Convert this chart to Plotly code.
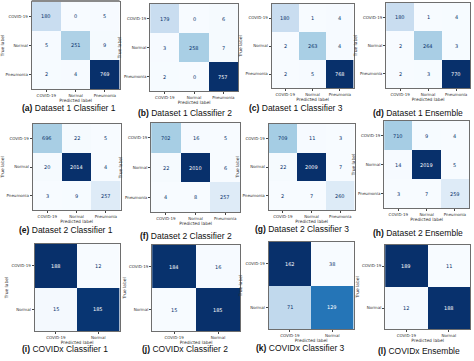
import plotly.graph_objects as go
from plotly.colors import sequential

# ---------------- data ----------------
labels3 = ["COVID-19", "Normal", "Pneumonia"]
labels2 = ["COVID-19", "Normal"]

cm_a = [[180, 0, 5], [5, 251, 9], [2, 4, 769]]
cm_b = [[179, 0, 6], [3, 258, 7], [2, 0, 757]]
cm_c = [[180, 1, 4], [2, 263, 4], [2, 5, 768]]
cm_d = [[180, 1, 4], [2, 264, 3], [2, 3, 770]]
cm_e = [[696, 22, 5], [20, 2014, 4], [3, 9, 257]]
cm_f = [[702, 16, 5], [22, 2010, 6], [4, 8, 257]]
cm_g = [[709, 11, 3], [22, 2009, 7], [2, 7, 260]]
cm_h = [[710, 9, 4], [14, 2019, 5], [3, 7, 259]]
cm_i = [[188, 12], [15, 185]]
cm_j = [[184, 16], [15, 185]]
cm_k = [[162, 38], [71, 129]]
cm_l = [[189, 11], [12, 188]]

captions = [
    ("(a)", "Dataset 1 Classifier 1"), ("(b)", "Dataset 1 Classifier 2"),
    ("(c)", "Dataset 1 Classifier 3"), ("(d)", "Dataset 1 Ensemble"),
    ("(e)", "Dataset 2 Classifier 1"), ("(f)", "Dataset 2 Classifier 2"),
    ("(g)", "Dataset 2 Classifier 3"), ("(h)", "Dataset 2 Ensemble"),
    ("(i)", "COVIDx Classifier 1"), ("(j)", "COVIDx Classifier 2"),
    ("(k)", "COVIDx Classifier 3"), ("(l)", "COVIDx Ensemble"),
]
matrices = [cm_a, cm_b, cm_c, cm_d, cm_e, cm_f, cm_g, cm_h, cm_i, cm_j, cm_k, cm_l]
matrix_labels = [labels3] * 8 + [labels2] * 4

# ---------------- layout (pixels) ----------------
W, H = 474, 361
# heatmap boxes: x0, x1, y0, y1 (pixels from top-left)
boxes = [
    (26, 115, 2, 89), (146, 235, 4, 91), (269, 352, 4, 88), (385, 470, 3, 88),
    (27, 116, 124, 210), (147, 237, 123, 212), (266, 353, 124, 210), (383, 469, 121, 208),
    (29, 115, 244, 331), (148, 237, 245, 331), (266, 352, 242, 329), (384, 470, 245, 329),
]
# caption centres (x, y) in pixels
cap_pos = [
    (64, 108), (181, 113), (294, 108), (417, 113),
    (61, 230), (182, 236), (300, 229), (417, 233),
    (60, 349), (181, 349), (298, 348), (418, 351),
]

blues = sequential.Blues
DARK = "rgb(8,48,107)"

fig = go.Figure()
annotations = []
layout_axes = {}

for n, (cm, labs, box, cap, cp) in enumerate(zip(matrices, matrix_labels, boxes, captions, cap_pos), start=1):
    sfx = "" if n == 1 else str(n)
    flat = [v for row in cm for v in row]
    vmin, vmax = min(flat), max(flat)
    thresh = (vmin + vmax) / 2.0
    fig.add_trace(go.Heatmap(
        z=cm, x=labs, y=labs, colorscale=blues, zmin=vmin, zmax=vmax,
        showscale=False, xaxis="x" + sfx, yaxis="y" + sfx, hoverinfo="z", xgap=0, ygap=0,
    ))
    x0, x1, y0, y1 = box
    layout_axes["xaxis" + sfx] = dict(
        domain=[x0 / W, x1 / W], anchor="y" + sfx, type="category",
        showline=True, mirror=True, linecolor="#6e6e6e", linewidth=1,
        ticks="outside", ticklen=2, tickwidth=0.6, tickcolor="#444",
        tickfont=dict(family="DejaVu Sans", size=4.0, color="#333"),
        title=dict(text="Predicted label", font=dict(family="DejaVu Sans", size=4.4, color="#333"), standoff=0),
        showgrid=False, zeroline=False, fixedrange=True,
    )
    layout_axes["yaxis" + sfx] = dict(
        domain=[1 - y1 / H, 1 - y0 / H], anchor="x" + sfx, type="category",
        autorange="reversed",
        showline=True, mirror=True, linecolor="#6e6e6e", linewidth=1,
        ticks="outside", ticklen=2, tickwidth=0.6, tickcolor="#444",
        tickfont=dict(family="DejaVu Sans", size=4.0, color="#333"),
        title=dict(text="True label", font=dict(family="DejaVu Sans", size=4.4, color="#333"), standoff=2),
        showgrid=False, zeroline=False, fixedrange=True,
    )
    for r, row in enumerate(cm):
        for c, v in enumerate(row):
            annotations.append(dict(
                x=labs[c], y=labs[r], xref="x" + sfx, yref="y" + sfx,
                text=str(v), showarrow=False,
                font=dict(family="DejaVu Sans", size=5.0, color="white" if v >= thresh else DARK),
            ))
    annotations.append(dict(
        x=cp[0] / W, y=1 - cp[1] / H, xref="paper", yref="paper",
        text="<b>" + cap[0] + "</b> " + cap[1], showarrow=False,
        xanchor="center", yanchor="middle",
        font=dict(family="Liberation Sans, Arial", size=8.5, color="#111"),
    ))

fig.update_layout(
    width=W, height=H, margin=dict(l=0, r=0, t=0, b=0),
    paper_bgcolor="white", plot_bgcolor="white",
    annotations=annotations, showlegend=False,
    shapes=[dict(type="rect", xref="paper", yref="paper",
                 x0=26 / W, x1=115 / W, y0=1 - 2 / H, y1=1.0,
                 fillcolor="#8a8a8a", line=dict(width=0))],
    **layout_axes,
)

fig.write_html("out.html", config={"displayModeBar": False},
               post_script="document.body.style.margin='0px';")
